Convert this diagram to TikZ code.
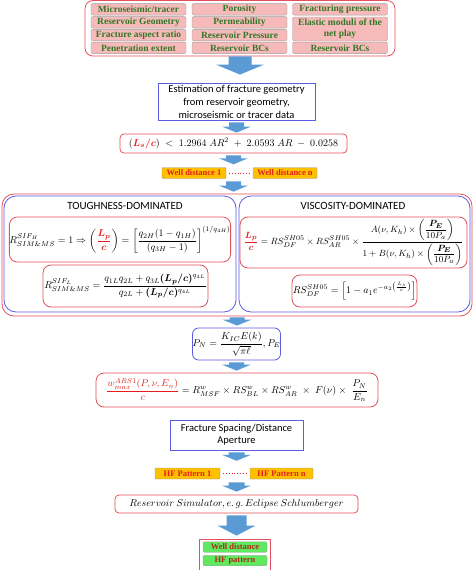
\documentclass[tikz,border=0pt]{standalone}
\usepackage[no-math]{fontspec}
\usepackage{amsmath,bm}
\setmainfont{Carlito}
\newfontfamily\labfont{Liberation Serif}
\usetikzlibrary{calc}
\definecolor{linered}{RGB}{226,80,92}
\definecolor{lineblue}{RGB}{92,92,226}
\definecolor{pinkfill}{RGB}{246,186,186}
\definecolor{labgreen}{RGB}{52,118,38}
\definecolor{arrowblue}{RGB}{91,155,213}
\definecolor{orangefill}{RGB}{255,192,0}
\definecolor{greenfill}{RGB}{96,232,96}
\definecolor{textred}{RGB}{228,30,30}
\definecolor{darkred}{RGB}{176,40,20}
\tikzset{
  rframe/.style={draw=linered, line width=0.8pt, rounded corners=8pt, inner sep=0pt},
  bframe/.style={draw=lineblue, line width=0.8pt, inner sep=0pt},
  ibox/.style={draw=gray!75, fill=pinkfill, rounded corners=2pt, inner sep=0pt,
    minimum width=95, minimum height=11.5, text=labgreen,
    font=\labfont\bfseries\fontsize{9.5}{11}\selectfont},
  obox/.style={draw=gray!75, fill=orangefill, rounded corners=1pt, inner sep=0pt,
    minimum height=11, text=textred, font=\labfont\bfseries\fontsize{8.5}{10}\selectfont},
  gbox/.style={draw=gray!75, fill=greenfill, rounded corners=1.5pt, inner sep=0pt,
    minimum width=64, minimum height=10.5, text=darkred,
    font=\labfont\bfseries\fontsize{8.5}{10}\selectfont},
  dots/.style={draw=textred, dotted, line width=0.8pt, shorten <=3pt, shorten >=3pt}
}
% block arrow: from, to, half shaft, half head, head length
\newcommand{\blockarrow}[5]{%
  \fill[arrowblue] let \p1=#1, \p2=#2 in
    (\x1-#3,\y1) -- (\x1-#3,\y2+#5) -- (\x1-#4,\y2+#5) -- (\x1,\y2)
    -- (\x1+#4,\y2+#5) -- (\x1+#3,\y2+#5) -- (\x1+#3,\y1) -- cycle;}
\begin{document}
\begin{tikzpicture}[x=1pt,y=-1pt]
  \useasboundingbox (0,0) rectangle (474,570);
  \draw
    (240,28.3) node[rframe, minimum width=310, minimum height=55.5] (inp) {};
  \draw
    (138.5,9.3) node[ibox] (i1) {Microseismic/tracer}
    (138.5,22.3) node[ibox] (i2) {Reservoir Geometry}
    (138.5,35.1) node[ibox] (i3) {Fracture aspect ratio}
    (138.5,47.8) node[ibox] (i4) {Penetration extent}
    (239.5,9.3) node[ibox] (i5) {Porosity}
    (239.5,22.3) node[ibox] (i6) {Permeability}
    (239.5,35.1) node[ibox] (i7) {Reservoir Pressure}
    (239.5,47.8) node[ibox] (i8) {Reservoir BCs}
    (340,9.3) node[ibox] (i9) {Fracturing pressure}
    (340,29) node[ibox, minimum height=24, align=center] (i10) {Elastic moduli of the\\net play}
    (340,47.8) node[ibox] (i11) {Reservoir BCs};
  \draw
    (236.5,101.5) node[bframe, minimum width=157, minimum height=37, align=center,
      font=\fontsize{10.5}{13}\selectfont] (est)
      {Estimation of fracture geometry\\from reservoir geometry,\\microseismic or tracer data}
    (233.5,143.5) node[rframe, rounded corners=4pt, minimum width=227, minimum height=19] (ls)
      {$({\color{textred}\bm{L_s/c}})\;<\;1.2964\;AR^2\;+\;2.0593\;AR\;-\;0.0258$}
    (194,173) node[obox, minimum width=64] (wd1) {Well distance 1}
    (285,173) node[obox, minimum width=64] (wd2) {Well distance n};
  \draw[dots] (wd1) -- (wd2);
  \draw
    (237,255) node[rframe, rounded corners=12pt, minimum width=470, minimum height=122] (big) {}
    (120,254) node[bframe, rounded corners=12pt, minimum width=232, minimum height=116] (tough) {}
    (354.5,254) node[bframe, rounded corners=12pt, minimum width=231, minimum height=116] (visc) {}
    (125,206) node[font=\fontsize{11}{13}\selectfont] (tt) {TOUGHNESS-DOMINATED}
    (353,206) node[font=\fontsize{11}{13}\selectfont] (vt) {VISCOSITY-DOMINATED}
    (120,239.5) node[rframe, minimum width=220, minimum height=45] (t1)
      {$R^{SIF_H}_{SIM\&MS}=1\Rightarrow\left({\color{textred}\dfrac{\bm{L_p}}{\bm{c}}}\right)
        =\left[\dfrac{q_{2H}(1-q_{1H})}{(q_{3H}-1)}\right]^{(1/q_{4H})}$}
    (125.5,286) node[rframe, minimum width=165, minimum height=42] (t2)
      {$R^{SIF_L}_{SIM\&MS}=\dfrac{q_{1L}q_{2L}+q_{3L}\bm{(L_p/c)}^{q_{4L}}}{q_{2L}+\bm{(L_p/c)}^{q_{4L}}}$}
    (353.5,242.5) node[rframe, minimum width=227, minimum height=51, font=\fontsize{9.5}{11}\selectfont] (v1)
      {${\color{textred}\dfrac{\bm{L_p}}{\bm{c}}}=RS^{SH05}_{DF}\times RS^{SH05}_{AR}\times
        \dfrac{A(\nu,K_h)\times\left(\dfrac{\bm{P_E}}{10P_a}\right)}{1+B(\nu,K_h)\times\left(\dfrac{\bm{P_E}}{10P_a}\right)}$}
    (354.5,291) node[rframe, minimum width=125, minimum height=32] (v2)
      {$RS^{SH05}_{DF}=\left[1-a_1e^{-a_2\left(\frac{L_s}{c}\right)}\right]$};
  \draw
    (236.5,344) node[bframe, rounded corners=6pt, minimum width=85, minimum height=32] (pn)
      {$P_N=\dfrac{K_{IC}E(k)}{\sqrt{\pi\ell}},P_E$}
    (237,390) node[rframe, minimum width=282, minimum height=34] (wmax)
      {${\color{textred}\dfrac{w^{ARS1}_{max}(P,\nu,E_n)}{c}}=R^w_{MSF}\times RS^w_{BL}\times RS^w_{AR}\;\times\;F(\nu)\times\;\dfrac{P_N}{E_n}$}
    (236.5,435) node[bframe, minimum width=133, minimum height=30, align=center,
      font=\fontsize{10.5}{12}\selectfont] (frac) {Fracture Spacing/Distance\\Aperture}
    (187.5,473.5) node[obox, minimum width=65] (hf1) {HF Pattern 1}
    (281.5,473.5) node[obox, minimum width=63] (hf2) {HF Pattern n}
    (236.5,504) node[rframe, rounded corners=4pt, minimum width=243, minimum height=18] (sim)
      {$Reservoir\ Simulator, e.\,g.\,Eclipse\ Schlumberger$}
    (234.5,556) node[draw=linered, line width=0.8pt, minimum width=71, minimum height=34] (res) {}
    (235,547) node[gbox] (o1) {Well distance}
    (235,560.5) node[gbox] (o2) {HF pattern};
  \draw[dots] (hf1) -- (hf2);
  \blockarrow{(inp.south)}{($(est.north)+(0,-8)$)}{11.5pt}{24pt}{10pt}
  \blockarrow{($(est.south)+(0,2)$)}{($(ls.north)+(0,-1)$)}{7.5pt}{14.5pt}{6pt}
  \blockarrow{($(ls.south)+(0,2)$)}{($(wd1.north)+(0,-3)$)}{7.5pt}{14.5pt}{6pt}
  \blockarrow{($(ls.south)+(0,28)$)}{($(big.north)+(0,-2)$)}{7.5pt}{14.5pt}{6pt}
  \blockarrow{($(big.south)+(0,1)$)}{($(pn.north)+(0,-2)$)}{7.5pt}{14.5pt}{6pt}
  \blockarrow{($(pn.south)+(0,2)$)}{($(wmax.north)+(0,-2)$)}{7.5pt}{14.5pt}{6pt}
  \blockarrow{($(frac.south)+(0,2)$)}{($(hf1.north)+(0,-7)$)}{8pt}{14.5pt}{6pt}
  \blockarrow{($(frac.south)+(0,32)$)}{($(sim.north)+(0,-3)$)}{8pt}{14.5pt}{6pt}
  \blockarrow{($(sim.south)+(0,2)$)}{($(res.north)+(0,-3)$)}{10pt}{19pt}{10pt}
\end{tikzpicture}
\end{document}
